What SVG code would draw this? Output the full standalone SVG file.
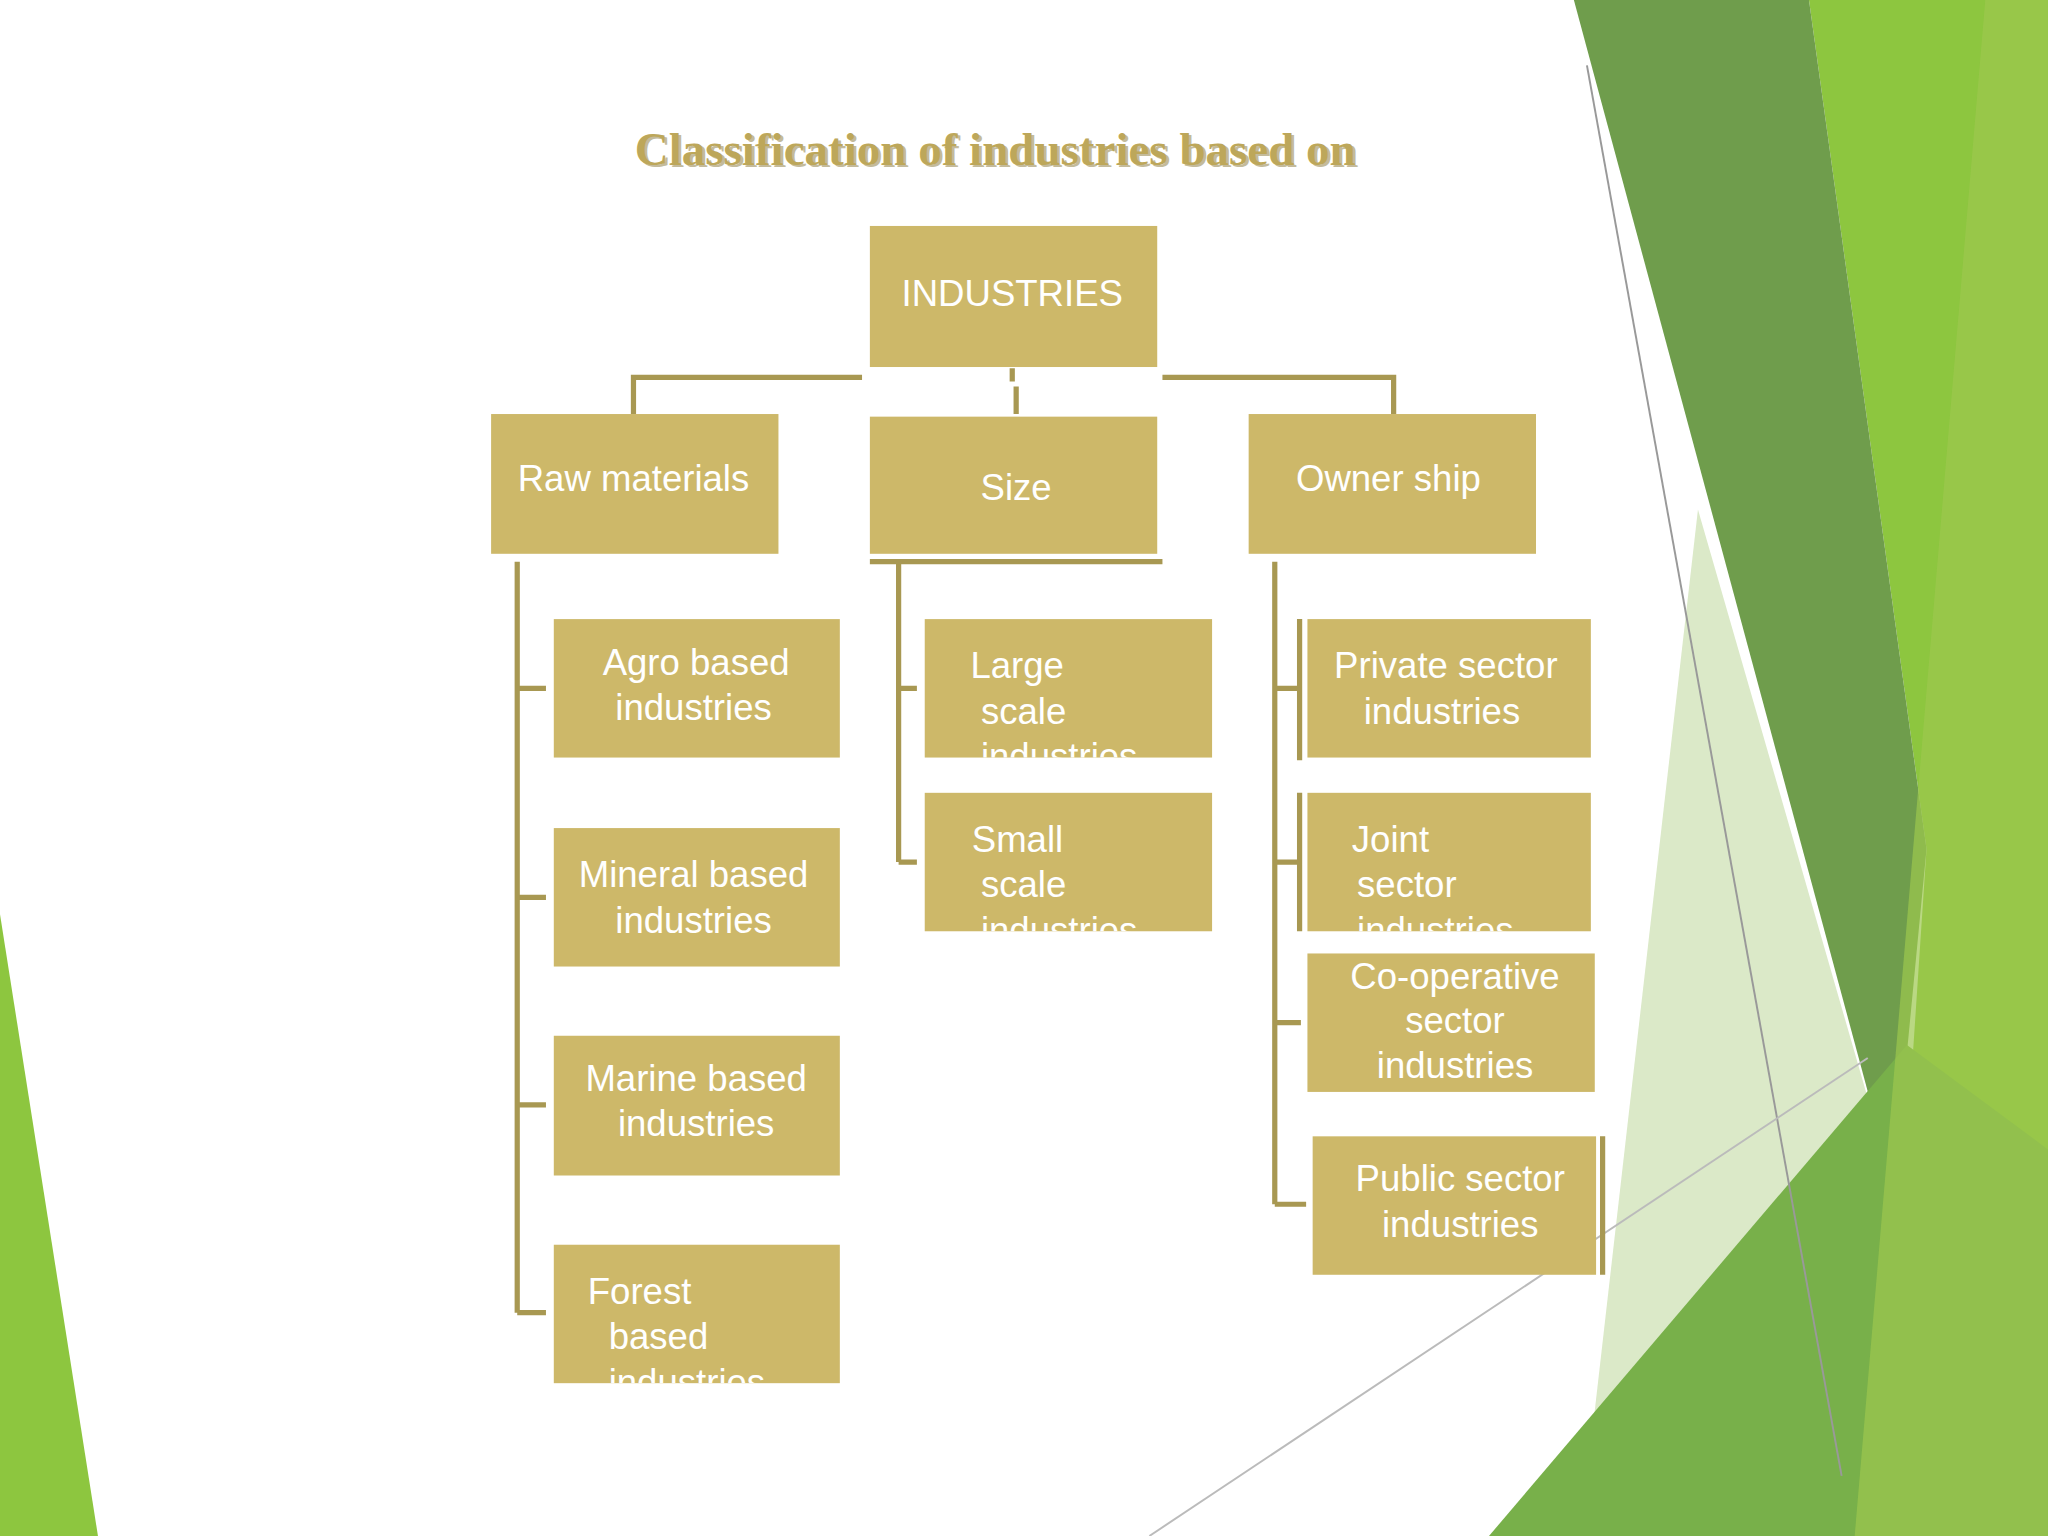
<svg xmlns="http://www.w3.org/2000/svg" width="2048" height="1536" viewBox="0 0 2048 1536">
<style>
.b{fill:#cdb869}
.t{fill:#fff;font-family:"Liberation Sans",Arial,sans-serif;font-size:28px}
.c{stroke:#a89852;stroke-width:4;fill:none}
</style>
<defs>
<clipPath id="c1"><rect x="708" y="474" width="220" height="106"/></clipPath>
<clipPath id="c2"><rect x="708" y="607" width="220" height="106"/></clipPath>
<clipPath id="c3"><rect x="1001" y="607" width="217" height="106"/></clipPath>
<clipPath id="c4"><rect x="424" y="953" width="219" height="106"/></clipPath>
</defs>
<rect width="2048" height="1536" fill="#fff"/>
<g transform="scale(1.30612)">
<g id="background">
<polygon points="1300,390 1450,910 1420,1176 1210,1176" fill="#dbe9c8"/>
<polygon points="1385,0 1568,0 1568,1176 1440,1176 1475,650" fill="#8dc63f"/>
<polygon points="1205,0 1385,0 1475,650 1450,910" fill="#6f9d4c"/>
<polygon points="1140,1176 1460,800 1568,880 1568,1176" fill="#78b04a"/>
<polygon points="1520,0 1568,0 1568,1176 1420,1176" fill="#9cc84f" opacity="0.7"/>
<polygon points="0,700 0,1176 75,1176" fill="#8dc63f"/>
<line x1="1215" y1="50" x2="1410" y2="1130" stroke="#999" stroke-width="1.5"/>
<line x1="880" y1="1176" x2="1430" y2="810" stroke="#bbb" stroke-width="1.5"/>
</g>
<text x="762" y="126" text-anchor="middle" font-family="Liberation Serif,serif" font-weight="bold" font-size="36" fill="#8a7a3a" opacity="0.5" transform="translate(2,2)">Classification of industries based on</text>
<text x="762" y="126" text-anchor="middle" font-family="Liberation Serif,serif" font-weight="bold" font-size="36" fill="#bda75a">Classification of industries based on</text>
<g id="connectors" class="c">
<path d="M485,317 V289 H660 M890,289 H1067 V317 M775,282 V292 M778,296 V317"/>
<path d="M396,430 V1005 M396,527 H418 M396,687 H418 M396,846 H418 M396,1005 H418"/>
<path d="M688,432 V660 M688,527 H702 M688,660 H702 M666,430 H890"/>
<path d="M976,430 V922 M976,527 H994 M976,660 H994 M976,783 H996 M976,922 H1000 M995,474 V582 M995,607 V713 M1227,870 V976"/>
</g>
<g id="n0"><rect class="b" x="666" y="173" width="220" height="108"/><text class="t" x="775" y="234" text-anchor="middle">INDUSTRIES</text></g>
<g id="n1"><rect class="b" x="376" y="317" width="220" height="107"/><text class="t" x="485" y="376" text-anchor="middle">Raw materials</text></g>
<g id="n2"><rect class="b" x="666" y="319" width="220" height="105"/><text class="t" x="778" y="383" text-anchor="middle">Size</text></g>
<g id="n3"><rect class="b" x="956" y="317" width="220" height="107"/><text class="t" x="1063" y="376" text-anchor="middle">Owner ship</text></g>
<g id="n4"><rect class="b" x="424" y="474" width="219" height="106"/><text class="t" text-anchor="middle"><tspan x="533" y="517">Agro based</tspan><tspan x="531" y="551">industries</tspan></text></g>
<g id="n5"><rect class="b" x="424" y="634" width="219" height="106"/><text class="t" text-anchor="middle"><tspan x="531" y="679">Mineral based</tspan><tspan x="531" y="714">industries</tspan></text></g>
<g id="n6"><rect class="b" x="424" y="793" width="219" height="107"/><text class="t" text-anchor="middle"><tspan x="533" y="835">Marine based</tspan><tspan x="533" y="870">industries</tspan></text></g>
<g id="n7"><rect class="b" x="424" y="953" width="219" height="106"/><text class="t" clip-path="url(#c4)"><tspan x="450" y="998">Forest</tspan><tspan x="466" y="1033">based</tspan><tspan x="466" y="1068">industries</tspan></text></g>
<g id="n8"><rect class="b" x="708" y="474" width="220" height="106"/><text class="t" clip-path="url(#c1)"><tspan x="743" y="519">Large</tspan><tspan x="751" y="554">scale</tspan><tspan x="751" y="589">industries</tspan></text></g>
<g id="n9"><rect class="b" x="708" y="607" width="220" height="106"/><text class="t" clip-path="url(#c2)"><tspan x="744" y="652">Small</tspan><tspan x="751" y="687">scale</tspan><tspan x="751" y="722">industries</tspan></text></g>
<g id="n10"><rect class="b" x="1001" y="474" width="217" height="106"/><text class="t" text-anchor="middle"><tspan x="1107" y="519">Private sector</tspan><tspan x="1104" y="554">industries</tspan></text></g>
<g id="n11"><rect class="b" x="1001" y="607" width="217" height="106"/><text class="t" clip-path="url(#c3)"><tspan x="1035" y="652">Joint</tspan><tspan x="1039" y="687">sector</tspan><tspan x="1039" y="722">industries</tspan></text></g>
<g id="n12"><rect class="b" x="1001" y="730" width="220" height="106"/><text class="t" text-anchor="middle"><tspan x="1114" y="757">Co-operative</tspan><tspan x="1114" y="791">sector</tspan><tspan x="1114" y="825">industries</tspan></text></g>
<g id="n13"><rect class="b" x="1005" y="870" width="217" height="106"/><text class="t" text-anchor="middle"><tspan x="1118" y="912">Public sector</tspan><tspan x="1118" y="947">industries</tspan></text></g>
</g>
</svg>
